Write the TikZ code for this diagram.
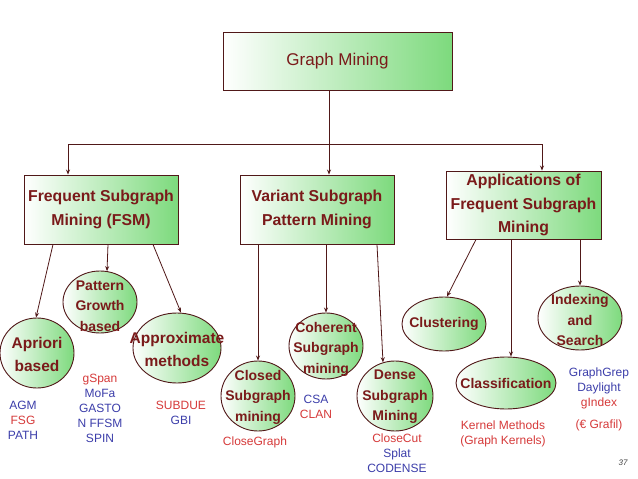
\documentclass[tikz,border=0pt]{standalone}
\usepackage{fontspec}
\setmainfont{Liberation Sans}
\usetikzlibrary{arrows.meta,shapes.geometric}
\definecolor{mar}{RGB}{122,26,26}
\definecolor{brd}{RGB}{80,24,24}
\definecolor{grn}{RGB}{125,218,125}
\definecolor{blu}{RGB}{60,62,170}
\definecolor{rd}{RGB}{214,58,58}
\begin{document}
\begin{tikzpicture}[x=1pt,y=-1pt,
  box/.style={draw=brd, line width=0.9pt, rectangle, inner sep=0pt, left color=white, middle color=grn!38!white, right color=grn, text=mar, align=center, font=\bfseries\fontsize{15.8}{23.5}\selectfont},
  ell/.style={draw=brd, line width=0.9pt, ellipse, inner sep=0pt, left color=white, middle color=grn!45!white, right color=grn},
  etxt/.style={text=mar, align=center, inner sep=0pt, font=\bfseries\fontsize{14}{20.5}\selectfont},
  bigtxt/.style={etxt, font=\bfseries\fontsize{15.5}{23}\selectfont},
  ex/.style={align=center, inner sep=0pt, font=\fontsize{12}{15}\selectfont},
  conn/.style={draw=brd, line width=0.8pt},
  arr/.style={conn, -{Stealth[length=5pt,width=4pt]}}]
\useasboundingbox[fill=white] (0,0) rectangle (638,479);

% boxes
\node[box, minimum width=229pt, minimum height=58pt, font=\fontsize{17}{20}\selectfont] (gm) at (337.5,61) {Graph Mining};
\node[box, minimum width=154pt, minimum height=69pt] (fsm) at (101,209.5) {Frequent Subgraph\\Mining (FSM)};
\node[box, minimum width=154pt, minimum height=69pt] (var) at (317,209.5) {Variant Subgraph\\Pattern Mining};
\node[box, minimum width=155pt, minimum height=68pt] (app) at (523.5,205) {Applications of\\Frequent Subgraph\\Mining};

% ellipses
\node[ell, minimum width=74pt, minimum height=70pt] (apr) at (37,353) {};
\node[ell, minimum width=74pt, minimum height=62pt] (pg) at (100,302) {};
\node[ell, minimum width=88pt, minimum height=70pt] (appx) at (177,348) {};
\node[ell, minimum width=74pt, minimum height=70pt] (cl) at (258,396) {};
\node[ell, minimum width=74pt, minimum height=66pt] (coh) at (326,346) {};
\node[ell, minimum width=76pt, minimum height=70pt] (den) at (395,396) {};
\node[ell, minimum width=84pt, minimum height=54pt] (clu) at (444,324) {};
\node[ell, minimum width=100pt, minimum height=52pt] (cls) at (506,383) {};
\node[ell, minimum width=84pt, minimum height=64pt] (idx) at (580,318) {};

\node[bigtxt] (aprt) at ([yshift=-1.5pt]apr.center) {Apriori\\based};
\node[etxt] (pgt) at ([yshift=-4pt]pg.center) {Pattern\\Growth\\based};
\node[bigtxt] (appxt) at ([yshift=-1.5pt]appx.center) {Approximate\\methods};
\node[etxt] (clt) at ([yshift=-1pt]cl.center) {Closed\\Subgraph\\mining};
\node[etxt] (coht) at ([yshift=-3pt]coh.center) {Coherent\\Subgraph\\mining};
\node[etxt] (dent) at ([yshift=-1pt]den.center) {Dense\\Subgraph\\Mining};
\node[etxt] (clut) at (clu.center) {Clustering};
\node[etxt] (clst) at (cls.center) {Classification};
\node[etxt] (idxt) at ([yshift=-2pt]idx.center) {Indexing\\and\\Search};

% tree connectors
\coordinate (tl) at (68,144);
\coordinate (tm) at (329,144);
\coordinate (tr) at (542,144);
\draw[conn] (gm.south -| tm) -- (tm);
\draw[conn] (tl) -- (tr);
\draw[arr] (tl) -- (tl |- fsm.north);
\draw[arr] (tm) -- (tm |- var.north);
\draw[arr] (tr) -- (tr |- app.north);

% box to ellipse connectors
\draw[arr] ([xshift=-48pt]fsm.south) -- ([xshift=-1pt]apr.north);
\draw[arr] ([xshift=7pt]fsm.south) -- ([xshift=7pt,yshift=-0.6pt]pg.north);
\draw[arr] ([xshift=52pt]fsm.south) -- ([xshift=4pt]appx.north);
\draw[arr] (cl.north |- var.south) -- (cl.north);
\draw[arr] (coh.north |- var.south) -- (coh.north);
\draw[arr] ([xshift=60pt]var.south) -- ([xshift=-12pt,yshift=-1.8pt]den.north);
\draw[arr] ([xshift=-47.5pt]app.south) -- ([xshift=3pt]clu.north);
\draw[arr] ([xshift=-12.5pt]app.south) -- ([xshift=5pt]cls.north);
\draw[arr] (idx.north |- app.south) -- (idx.north);

% example lists
\node[ex] (exapr) at (23,420) {\textcolor{blu}{AGM}\\\textcolor{rd}{FSG}\\\textcolor{blu}{PATH}};
\node[ex] (expg) at (100,408.5) {\textcolor{rd}{gSpan}\\\textcolor{blu}{MoFa}\\\textcolor{blu}{GASTO}\\\textcolor{blu}{N FFSM}\\\textcolor{blu}{SPIN}};
\node[ex] (exappx) at (181,412.5) {\textcolor{rd}{SUBDUE}\\\textcolor{blu}{GBI}};
\node[ex, text=rd] (excl) at (255,442) {CloseGraph};
\node[ex] (excoh) at (316,407) {\textcolor{blu}{CSA}\\\textcolor{rd}{CLAN}};
\node[ex] (exden) at (397,453.5) {\textcolor{rd}{CloseCut}\\\textcolor{blu}{Splat}\\\textcolor{blu}{CODENSE}};
\node[ex, text=rd] (excls) at (503,433.5) {Kernel Methods\\(Graph Kernels)};
\node[ex] (exidx) at (599,388) {\textcolor{blu}{GraphGrep}\\\textcolor{blu}{Daylight}\\\textcolor{rd}{gIndex}};
\node[ex, text=rd] (exidx2) at (599,425) {(€ Grafil)};
\node[inner sep=0pt, text=black!75, font=\itshape\fontsize{8}{8}\selectfont] (pgno) at (623,463) {37};
\end{tikzpicture}
\end{document}
